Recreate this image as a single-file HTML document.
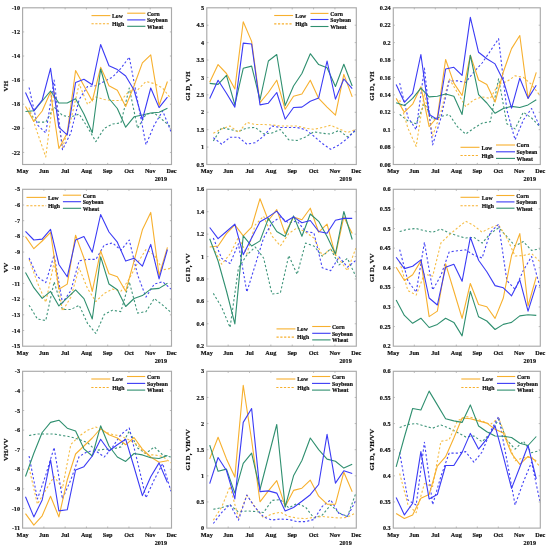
<!DOCTYPE html>
<html><head><meta charset="utf-8"><style>
html,body{margin:0;padding:0;background:#fff;}
svg{display:block;will-change:transform;filter:blur(0.3px)}
.t{font-family:"Liberation Serif",serif;font-weight:bold;font-size:6.2px;fill:#111;stroke:#111;stroke-width:0.18px}
.g{font-family:"Liberation Serif",serif;font-weight:bold;font-size:5.75px;fill:#111;stroke:#111;stroke-width:0.18px}
.l{font-family:"Liberation Serif",serif;font-weight:bold;font-size:7.1px;fill:#111;stroke:#111;stroke-width:0.18px}
</style></head><body>
<svg width="550" height="550" viewBox="0 0 550 550">
<rect width="550" height="550" fill="#fff"/>
<polyline points="29.07,112.60 37.42,122.10 45.77,122.10 54.12,107.00 62.47,115.50 70.82,117.00 79.17,114.10 87.52,127.20 95.87,141.60 104.22,128.40 112.57,124.00 120.92,122.90 129.27,88.00 137.61,128.40 145.96,114.20 154.31,113.00 162.66,120.00 171.01,127.30" fill="none" stroke="#3f957a" stroke-width="1.1" stroke-dasharray="2.2,2.1" stroke-linejoin="round"/>
<polyline points="29.07,107.60 37.42,132.90 45.77,157.00 54.12,90.80 62.47,148.00 70.82,120.00 79.17,84.10 87.52,104.30 95.87,97.00 104.22,99.50 112.57,100.50 120.92,100.50 129.27,91.00 137.61,90.00 145.96,81.50 154.31,83.60 162.66,88.00 171.01,98.90" fill="none" stroke="#f6bd45" stroke-width="1.1" stroke-dasharray="2.2,2.1" stroke-linejoin="round"/>
<polyline points="29.07,87.50 37.42,125.00 45.77,133.00 54.12,80.00 62.47,149.70 70.82,133.00 79.17,99.50 87.52,86.50 95.87,85.70 104.22,81.50 112.57,77.00 120.92,68.40 129.27,57.00 137.61,101.00 145.96,144.70 154.31,125.00 162.66,110.90 171.01,131.60" fill="none" stroke="#4545f5" stroke-width="1.1" stroke-dasharray="2.2,2.1" stroke-linejoin="round"/>
<polyline points="25.49,106.50 33.84,121.50 42.19,111.00 50.54,92.00 58.89,148.50 67.24,133.00 75.58,70.50 83.93,85.80 92.28,101.00 100.63,67.30 108.98,85.80 117.33,90.20 125.68,106.50 134.03,85.80 142.38,62.90 150.73,54.80 159.08,105.50 167.43,81.50" fill="none" stroke="#f7b02e" stroke-width="1.1" stroke-linejoin="round"/>
<polyline points="25.49,111.50 33.84,110.80 42.19,101.00 50.54,91.00 58.89,103.00 67.24,103.00 75.58,98.80 83.93,114.00 92.28,132.80 100.63,69.00 108.98,98.50 117.33,108.50 125.68,127.20 134.03,116.80 142.38,115.00 150.73,113.00 159.08,112.30 167.43,108.20" fill="none" stroke="#2f8f6f" stroke-width="1.1" stroke-linejoin="round"/>
<polyline points="25.49,92.40 33.84,110.90 42.19,100.00 50.54,68.40 58.89,127.30 67.24,134.90 75.58,82.50 83.93,79.30 92.28,84.70 100.63,44.50 108.98,65.80 117.33,69.60 125.68,76.00 134.03,90.00 142.38,119.60 150.73,88.00 159.08,107.60 167.43,97.20" fill="none" stroke="#3b3bf5" stroke-width="1.1" stroke-linejoin="round"/>
<line x1="91.5" y1="15.6" x2="110.4" y2="15.6" stroke="#f7b02e" stroke-width="1.1"/>
<line x1="91.5" y1="23.8" x2="110.4" y2="23.8" stroke="#f7b02e" stroke-width="1.1" stroke-dasharray="2.2,1.6"/>
<text x="112.0" y="17.90" class="g">Low</text>
<text x="112.0" y="26.10" class="g">High</text>
<line x1="127.2" y1="13.2" x2="145.4" y2="13.2" stroke="#f7b02e" stroke-width="1.1"/>
<text x="146.9" y="15.50" class="g">Corn</text>
<line x1="127.2" y1="19.9" x2="145.4" y2="19.9" stroke="#3b3bf5" stroke-width="1.1"/>
<text x="146.9" y="22.20" class="g">Soybean</text>
<line x1="127.2" y1="26.3" x2="145.4" y2="26.3" stroke="#2f8f6f" stroke-width="1.1"/>
<text x="146.9" y="28.60" class="g">Wheat</text>
<rect x="22.6" y="7.8" width="148.90" height="156.70" fill="none" stroke="#aaaaaa" stroke-width="1.15"/>
<path d="M43.87 164.5v-1.6M43.87 7.8v1.6M65.14 164.5v-1.6M65.14 7.8v1.6M86.41 164.5v-1.6M86.41 7.8v1.6M107.69 164.5v-1.6M107.69 7.8v1.6M128.96 164.5v-1.6M128.96 7.8v1.6M150.23 164.5v-1.6M150.23 7.8v1.6M22.6 31.91h1.6M171.5 31.91h-1.6M22.6 56.02h1.6M171.5 56.02h-1.6M22.6 80.12h1.6M171.5 80.12h-1.6M22.6 104.23h1.6M171.5 104.23h-1.6M22.6 128.34h1.6M171.5 128.34h-1.6M22.6 152.45h1.6M171.5 152.45h-1.6" stroke="#aaaaaa" stroke-width="0.8" fill="none"/>
<text x="20.00" y="9.90" text-anchor="end" class="t">-10</text>
<text x="20.00" y="34.01" text-anchor="end" class="t">-12</text>
<text x="20.00" y="58.12" text-anchor="end" class="t">-14</text>
<text x="20.00" y="82.22" text-anchor="end" class="t">-16</text>
<text x="20.00" y="106.33" text-anchor="end" class="t">-18</text>
<text x="20.00" y="130.44" text-anchor="end" class="t">-20</text>
<text x="20.00" y="154.55" text-anchor="end" class="t">-22</text>
<text x="22.60" y="173.10" text-anchor="middle" class="t">May</text>
<text x="43.87" y="173.10" text-anchor="middle" class="t">Jun</text>
<text x="65.14" y="173.10" text-anchor="middle" class="t">Jul</text>
<text x="86.41" y="173.10" text-anchor="middle" class="t">Aug</text>
<text x="107.69" y="173.10" text-anchor="middle" class="t">Sep</text>
<text x="128.96" y="173.10" text-anchor="middle" class="t">Oct</text>
<text x="150.23" y="173.10" text-anchor="middle" class="t">Nov</text>
<text x="171.50" y="173.10" text-anchor="middle" class="t">Dec</text>
<text x="160.86" y="181.10" text-anchor="middle" class="t">2019</text>
<text transform="translate(8.20,86.15) rotate(-90)" text-anchor="middle" class="l" style="font-size:7.0px">VH</text>
<polyline points="213.30,141.00 221.68,127.60 230.06,129.50 238.45,131.50 246.83,128.00 255.21,127.40 263.60,133.90 271.98,133.00 280.36,129.50 288.75,139.80 297.13,140.50 305.51,136.90 313.90,131.80 322.28,133.30 330.66,134.00 339.04,130.40 347.43,136.90 355.81,130.40" fill="none" stroke="#3f957a" stroke-width="1.1" stroke-dasharray="2.2,2.1" stroke-linejoin="round"/>
<polyline points="213.30,133.30 221.68,128.90 230.06,126.00 238.45,132.50 246.83,122.40 255.21,124.50 263.60,124.50 271.98,125.00 280.36,126.00 288.75,126.00 297.13,126.00 305.51,128.20 313.90,129.30 322.28,127.50 330.66,125.30 339.04,128.90 347.43,132.50 355.81,129.60" fill="none" stroke="#f6bd45" stroke-width="1.1" stroke-dasharray="2.2,2.1" stroke-linejoin="round"/>
<polyline points="213.30,137.60 221.68,144.20 230.06,137.20 238.45,137.20 246.83,144.20 255.21,142.70 263.60,136.20 271.98,126.00 280.36,127.50 288.75,127.50 297.13,127.50 305.51,129.60 313.90,136.20 322.28,143.50 330.66,149.30 339.04,144.90 347.43,138.40 355.81,129.60" fill="none" stroke="#4545f5" stroke-width="1.1" stroke-dasharray="2.2,2.1" stroke-linejoin="round"/>
<polyline points="209.70,82.30 218.08,64.60 226.47,73.50 234.85,88.90 243.23,21.70 251.62,41.40 260.00,102.70 268.38,92.50 276.76,80.20 285.15,109.30 293.53,96.20 301.91,94.00 310.30,80.20 318.68,98.40 327.06,107.10 335.45,115.10 343.83,74.40 352.21,96.90" fill="none" stroke="#f7b02e" stroke-width="1.1" stroke-linejoin="round"/>
<polyline points="209.70,83.40 218.08,84.40 226.47,75.30 234.85,104.90 243.23,68.30 251.62,66.10 260.00,99.80 268.38,61.00 276.76,54.50 285.15,105.60 293.53,86.00 301.91,73.50 310.30,53.70 318.68,64.60 327.06,67.80 335.45,86.50 343.83,64.30 352.21,86.00" fill="none" stroke="#2f8f6f" stroke-width="1.1" stroke-linejoin="round"/>
<polyline points="209.70,98.40 218.08,80.20 226.47,93.30 234.85,107.10 243.23,43.10 251.62,44.00 260.00,104.90 268.38,103.20 276.76,92.50 285.15,119.20 293.53,107.50 301.91,107.10 310.30,101.30 318.68,97.90 327.06,61.00 335.45,99.10 343.83,79.00 352.21,88.60" fill="none" stroke="#3b3bf5" stroke-width="1.1" stroke-linejoin="round"/>
<line x1="274.2" y1="15.5" x2="293.1" y2="15.5" stroke="#f7b02e" stroke-width="1.1"/>
<line x1="274.2" y1="23.9" x2="293.1" y2="23.9" stroke="#f7b02e" stroke-width="1.1" stroke-dasharray="2.2,1.6"/>
<text x="295.3" y="17.80" class="g">Low</text>
<text x="295.3" y="26.20" class="g">High</text>
<line x1="310.5" y1="13.4" x2="328.5" y2="13.4" stroke="#f7b02e" stroke-width="1.1"/>
<text x="330.2" y="15.70" class="g">Corn</text>
<line x1="310.5" y1="19.5" x2="328.5" y2="19.5" stroke="#3b3bf5" stroke-width="1.1"/>
<text x="330.2" y="21.80" class="g">Soybean</text>
<line x1="310.5" y1="26.5" x2="328.5" y2="26.5" stroke="#2f8f6f" stroke-width="1.1"/>
<text x="330.2" y="28.80" class="g">Wheat</text>
<rect x="206.8" y="7.8" width="149.50" height="156.70" fill="none" stroke="#aaaaaa" stroke-width="1.15"/>
<path d="M228.16 164.5v-1.6M228.16 7.8v1.6M249.51 164.5v-1.6M249.51 7.8v1.6M270.87 164.5v-1.6M270.87 7.8v1.6M292.23 164.5v-1.6M292.23 7.8v1.6M313.59 164.5v-1.6M313.59 7.8v1.6M334.94 164.5v-1.6M334.94 7.8v1.6M206.8 25.21h1.6M356.3 25.21h-1.6M206.8 42.62h1.6M356.3 42.62h-1.6M206.8 60.03h1.6M356.3 60.03h-1.6M206.8 77.44h1.6M356.3 77.44h-1.6M206.8 94.86h1.6M356.3 94.86h-1.6M206.8 112.27h1.6M356.3 112.27h-1.6M206.8 129.68h1.6M356.3 129.68h-1.6M206.8 147.09h1.6M356.3 147.09h-1.6" stroke="#aaaaaa" stroke-width="0.8" fill="none"/>
<text x="204.20" y="9.90" text-anchor="end" class="t">5</text>
<text x="204.20" y="27.31" text-anchor="end" class="t">4.5</text>
<text x="204.20" y="44.72" text-anchor="end" class="t">4</text>
<text x="204.20" y="62.13" text-anchor="end" class="t">3.5</text>
<text x="204.20" y="79.54" text-anchor="end" class="t">3</text>
<text x="204.20" y="96.96" text-anchor="end" class="t">2.5</text>
<text x="204.20" y="114.37" text-anchor="end" class="t">2</text>
<text x="204.20" y="131.78" text-anchor="end" class="t">1.5</text>
<text x="204.20" y="149.19" text-anchor="end" class="t">1</text>
<text x="204.20" y="166.60" text-anchor="end" class="t">0.5</text>
<text x="206.80" y="173.10" text-anchor="middle" class="t">May</text>
<text x="228.16" y="173.10" text-anchor="middle" class="t">Jun</text>
<text x="249.51" y="173.10" text-anchor="middle" class="t">Jul</text>
<text x="270.87" y="173.10" text-anchor="middle" class="t">Aug</text>
<text x="292.23" y="173.10" text-anchor="middle" class="t">Sep</text>
<text x="313.59" y="173.10" text-anchor="middle" class="t">Oct</text>
<text x="334.94" y="173.10" text-anchor="middle" class="t">Nov</text>
<text x="356.30" y="173.10" text-anchor="middle" class="t">Dec</text>
<text x="345.62" y="181.10" text-anchor="middle" class="t">2019</text>
<text transform="translate(189.90,86.15) rotate(-90)" text-anchor="middle" class="l">GI<tspan dx="1.6">D</tspan><tspan font-size="4.2" dy="1.8">r</tspan><tspan dy="-1.8"> VH</tspan></text>
<polyline points="399.69,114.40 407.93,120.90 416.17,123.80 424.42,103.50 432.66,119.50 440.90,116.50 449.15,114.40 457.39,126.70 465.63,134.00 473.88,128.20 482.12,123.10 490.36,121.60 498.60,78.70 506.85,123.80 515.09,128.90 523.33,112.20 531.58,118.00 539.82,126.70" fill="none" stroke="#3f957a" stroke-width="1.1" stroke-dasharray="2.2,2.1" stroke-linejoin="round"/>
<polyline points="399.69,100.00 407.93,128.20 416.17,146.40 424.42,93.30 432.66,136.00 440.90,112.00 449.15,78.70 457.39,92.50 465.63,106.40 473.88,99.80 482.12,96.90 490.36,98.40 498.60,83.80 506.85,81.60 515.09,75.80 523.33,77.30 531.58,84.50 539.82,95.50" fill="none" stroke="#f6bd45" stroke-width="1.1" stroke-dasharray="2.2,2.1" stroke-linejoin="round"/>
<polyline points="399.69,83.10 407.93,117.30 416.17,129.60 424.42,68.00 432.66,144.90 440.90,118.00 449.15,80.90 457.39,80.90 465.63,82.40 473.88,72.00 482.12,63.00 490.36,51.00 498.60,38.70 506.85,110.00 515.09,139.80 523.33,120.00 531.58,108.50 539.82,126.70" fill="none" stroke="#4545f5" stroke-width="1.1" stroke-dasharray="2.2,2.1" stroke-linejoin="round"/>
<polyline points="396.15,98.40 404.39,112.20 412.64,104.20 420.88,86.70 429.12,126.70 437.37,117.00 445.61,59.50 453.85,83.10 462.09,95.50 470.34,55.20 478.58,80.00 486.82,84.50 495.07,102.00 503.31,72.00 511.55,48.60 519.80,35.50 528.04,98.40 536.28,72.40" fill="none" stroke="#f7b02e" stroke-width="1.1" stroke-linejoin="round"/>
<polyline points="396.15,102.70 404.39,105.60 412.64,98.40 420.88,88.20 429.12,96.90 437.37,96.20 445.61,94.00 453.85,96.20 462.09,114.40 470.34,55.20 478.58,94.70 486.82,103.00 495.07,113.30 503.31,108.50 511.55,106.40 519.80,107.50 528.04,104.90 536.28,99.80" fill="none" stroke="#2f8f6f" stroke-width="1.1" stroke-linejoin="round"/>
<polyline points="396.15,84.50 404.39,102.30 412.64,93.30 420.88,54.50 429.12,114.40 437.37,119.50 445.61,69.00 453.85,67.30 462.09,75.30 470.34,17.40 478.58,52.30 486.82,58.80 495.07,63.90 503.31,80.40 511.55,108.10 519.80,78.20 528.04,98.40 536.28,85.30" fill="none" stroke="#3b3bf5" stroke-width="1.1" stroke-linejoin="round"/>
<line x1="460.5" y1="147.3" x2="479.5" y2="147.3" stroke="#f7b02e" stroke-width="1.1"/>
<line x1="460.5" y1="155.5" x2="479.5" y2="155.5" stroke="#f7b02e" stroke-width="1.1" stroke-dasharray="2.2,1.6"/>
<text x="481.4" y="149.60" class="g">Low</text>
<text x="481.4" y="157.80" class="g">High</text>
<line x1="496" y1="145" x2="515" y2="145" stroke="#f7b02e" stroke-width="1.1"/>
<text x="516.5" y="147.30" class="g">Corn</text>
<line x1="496" y1="151.8" x2="515" y2="151.8" stroke="#3b3bf5" stroke-width="1.1"/>
<text x="516.5" y="154.10" class="g">Soybean</text>
<line x1="496" y1="158.4" x2="515" y2="158.4" stroke="#2f8f6f" stroke-width="1.1"/>
<text x="516.5" y="160.70" class="g">Wheat</text>
<rect x="393.3" y="7.8" width="147.00" height="156.70" fill="none" stroke="#aaaaaa" stroke-width="1.15"/>
<path d="M414.30 164.5v-1.6M414.30 7.8v1.6M435.30 164.5v-1.6M435.30 7.8v1.6M456.30 164.5v-1.6M456.30 7.8v1.6M477.30 164.5v-1.6M477.30 7.8v1.6M498.30 164.5v-1.6M498.30 7.8v1.6M519.30 164.5v-1.6M519.30 7.8v1.6M393.3 25.21h1.6M540.3 25.21h-1.6M393.3 42.62h1.6M540.3 42.62h-1.6M393.3 60.03h1.6M540.3 60.03h-1.6M393.3 77.44h1.6M540.3 77.44h-1.6M393.3 94.86h1.6M540.3 94.86h-1.6M393.3 112.27h1.6M540.3 112.27h-1.6M393.3 129.68h1.6M540.3 129.68h-1.6M393.3 147.09h1.6M540.3 147.09h-1.6" stroke="#aaaaaa" stroke-width="0.8" fill="none"/>
<text x="390.70" y="9.90" text-anchor="end" class="t">0.24</text>
<text x="390.70" y="27.31" text-anchor="end" class="t">0.22</text>
<text x="390.70" y="44.72" text-anchor="end" class="t">0.2</text>
<text x="390.70" y="62.13" text-anchor="end" class="t">0.18</text>
<text x="390.70" y="79.54" text-anchor="end" class="t">0.16</text>
<text x="390.70" y="96.96" text-anchor="end" class="t">0.14</text>
<text x="390.70" y="114.37" text-anchor="end" class="t">0.12</text>
<text x="390.70" y="131.78" text-anchor="end" class="t">0.1</text>
<text x="390.70" y="149.19" text-anchor="end" class="t">0.08</text>
<text x="390.70" y="166.60" text-anchor="end" class="t">0.06</text>
<text x="393.30" y="173.10" text-anchor="middle" class="t">May</text>
<text x="414.30" y="173.10" text-anchor="middle" class="t">Jun</text>
<text x="435.30" y="173.10" text-anchor="middle" class="t">Jul</text>
<text x="456.30" y="173.10" text-anchor="middle" class="t">Aug</text>
<text x="477.30" y="173.10" text-anchor="middle" class="t">Sep</text>
<text x="498.30" y="173.10" text-anchor="middle" class="t">Oct</text>
<text x="519.30" y="173.10" text-anchor="middle" class="t">Nov</text>
<text x="540.30" y="173.10" text-anchor="middle" class="t">Dec</text>
<text x="529.80" y="181.10" text-anchor="middle" class="t">2019</text>
<text transform="translate(373.60,86.15) rotate(-90)" text-anchor="middle" class="l">GI<tspan dx="1.6">D</tspan><tspan font-size="4.2" dy="1.8">a</tspan><tspan dy="-1.8"> VH</tspan></text>
<polyline points="29.07,305.20 37.42,319.00 45.77,320.50 54.12,281.90 62.47,309.50 70.82,309.50 79.17,305.20 87.52,323.40 95.87,333.50 104.22,314.50 112.57,310.20 120.92,311.60 129.27,281.80 137.61,313.10 145.96,311.60 154.31,298.50 162.66,305.10 171.01,312.40" fill="none" stroke="#3f957a" stroke-width="1.1" stroke-dasharray="2.2,2.1" stroke-linejoin="round"/>
<polyline points="29.07,259.40 37.42,282.60 45.77,302.30 54.12,262.30 62.47,311.00 70.82,297.20 79.17,268.10 87.52,288.50 95.87,301.50 104.22,293.50 112.57,289.10 120.92,291.30 129.27,278.90 137.61,262.90 145.96,249.50 154.31,255.00 162.66,269.80 171.01,268.40" fill="none" stroke="#f6bd45" stroke-width="1.1" stroke-dasharray="2.2,2.1" stroke-linejoin="round"/>
<polyline points="29.07,257.90 37.42,276.80 45.77,282.60 54.12,255.00 62.47,303.00 70.82,290.60 79.17,260.80 87.52,259.40 95.87,259.40 104.22,245.10 112.57,242.90 120.92,250.20 129.27,240.00 137.61,275.00 145.96,297.10 154.31,284.00 162.66,281.80 171.01,289.10" fill="none" stroke="#4545f5" stroke-width="1.1" stroke-dasharray="2.2,2.1" stroke-linejoin="round"/>
<polyline points="25.49,236.60 33.84,248.70 42.19,241.00 50.54,232.30 58.89,289.20 67.24,284.10 75.58,235.20 83.93,258.00 92.28,291.40 100.63,250.90 108.98,273.80 117.33,276.70 125.68,291.30 134.03,261.10 142.38,229.80 150.73,212.40 159.08,275.60 167.43,247.30" fill="none" stroke="#f7b02e" stroke-width="1.1" stroke-linejoin="round"/>
<polyline points="25.49,272.50 33.84,287.70 42.19,298.30 50.54,291.40 58.89,305.90 67.24,297.90 75.58,289.90 83.93,298.60 92.28,319.00 100.63,256.70 108.98,284.00 117.33,289.80 125.68,306.50 134.03,298.50 142.38,295.60 150.73,289.10 159.08,288.40 167.43,283.30" fill="none" stroke="#2f8f6f" stroke-width="1.1" stroke-linejoin="round"/>
<polyline points="25.49,231.30 33.84,240.00 42.19,239.10 50.54,229.40 58.89,264.50 67.24,276.80 75.58,240.00 83.93,236.60 92.28,252.20 100.63,214.50 108.98,232.00 117.33,242.20 125.68,261.10 134.03,258.20 142.38,266.20 150.73,244.40 159.08,278.90 167.43,249.50" fill="none" stroke="#3b3bf5" stroke-width="1.1" stroke-linejoin="round"/>
<line x1="26.5" y1="197.4" x2="46.2" y2="197.4" stroke="#f7b02e" stroke-width="1.1"/>
<line x1="26.5" y1="205.8" x2="46.2" y2="205.8" stroke="#f7b02e" stroke-width="1.1" stroke-dasharray="2.2,1.6"/>
<text x="47.9" y="199.70" class="g">Low</text>
<text x="47.9" y="208.10" class="g">High</text>
<line x1="62.9" y1="195.2" x2="81.1" y2="195.2" stroke="#f7b02e" stroke-width="1.1"/>
<text x="82.8" y="197.50" class="g">Corn</text>
<line x1="62.9" y1="201.7" x2="81.1" y2="201.7" stroke="#3b3bf5" stroke-width="1.1"/>
<text x="82.8" y="204.00" class="g">Soybean</text>
<line x1="62.9" y1="208.3" x2="81.1" y2="208.3" stroke="#2f8f6f" stroke-width="1.1"/>
<text x="82.8" y="210.60" class="g">Wheat</text>
<rect x="22.6" y="189.3" width="148.90" height="156.90" fill="none" stroke="#aaaaaa" stroke-width="1.15"/>
<path d="M43.87 346.2v-1.6M43.87 189.3v1.6M65.14 346.2v-1.6M65.14 189.3v1.6M86.41 346.2v-1.6M86.41 189.3v1.6M107.69 346.2v-1.6M107.69 189.3v1.6M128.96 346.2v-1.6M128.96 189.3v1.6M150.23 346.2v-1.6M150.23 189.3v1.6M22.6 204.99h1.6M171.5 204.99h-1.6M22.6 220.68h1.6M171.5 220.68h-1.6M22.6 236.37h1.6M171.5 236.37h-1.6M22.6 252.06h1.6M171.5 252.06h-1.6M22.6 267.75h1.6M171.5 267.75h-1.6M22.6 283.44h1.6M171.5 283.44h-1.6M22.6 299.13h1.6M171.5 299.13h-1.6M22.6 314.82h1.6M171.5 314.82h-1.6M22.6 330.51h1.6M171.5 330.51h-1.6" stroke="#aaaaaa" stroke-width="0.8" fill="none"/>
<text x="20.00" y="191.40" text-anchor="end" class="t">-5</text>
<text x="20.00" y="207.09" text-anchor="end" class="t">-6</text>
<text x="20.00" y="222.78" text-anchor="end" class="t">-7</text>
<text x="20.00" y="238.47" text-anchor="end" class="t">-8</text>
<text x="20.00" y="254.16" text-anchor="end" class="t">-9</text>
<text x="20.00" y="269.85" text-anchor="end" class="t">-10</text>
<text x="20.00" y="285.54" text-anchor="end" class="t">-11</text>
<text x="20.00" y="301.23" text-anchor="end" class="t">-12</text>
<text x="20.00" y="316.92" text-anchor="end" class="t">-13</text>
<text x="20.00" y="332.61" text-anchor="end" class="t">-14</text>
<text x="20.00" y="348.30" text-anchor="end" class="t">-15</text>
<text x="22.60" y="354.80" text-anchor="middle" class="t">May</text>
<text x="43.87" y="354.80" text-anchor="middle" class="t">Jun</text>
<text x="65.14" y="354.80" text-anchor="middle" class="t">Jul</text>
<text x="86.41" y="354.80" text-anchor="middle" class="t">Aug</text>
<text x="107.69" y="354.80" text-anchor="middle" class="t">Sep</text>
<text x="128.96" y="354.80" text-anchor="middle" class="t">Oct</text>
<text x="150.23" y="354.80" text-anchor="middle" class="t">Nov</text>
<text x="171.50" y="354.80" text-anchor="middle" class="t">Dec</text>
<text x="160.86" y="362.80" text-anchor="middle" class="t">2019</text>
<text transform="translate(8.20,267.75) rotate(-90)" text-anchor="middle" class="l" style="font-size:7.0px">VV</text>
<polyline points="213.30,293.40 221.68,307.20 230.06,327.50 238.45,268.00 246.83,255.00 255.21,247.00 263.60,258.00 271.98,294.00 280.36,293.00 288.75,255.50 297.13,274.40 305.51,243.10 313.90,246.00 322.28,256.20 330.66,248.90 339.04,264.90 347.43,258.40 355.81,276.50" fill="none" stroke="#3f957a" stroke-width="1.1" stroke-dasharray="2.2,2.1" stroke-linejoin="round"/>
<polyline points="213.30,247.50 221.68,264.20 230.06,254.00 238.45,237.30 246.83,254.00 255.21,224.90 263.60,216.20 271.98,236.00 280.36,246.00 288.75,233.60 297.13,227.80 305.51,232.00 313.90,238.00 322.28,255.50 330.66,249.00 339.04,259.10 347.43,270.70 355.81,248.20" fill="none" stroke="#f6bd45" stroke-width="1.1" stroke-dasharray="2.2,2.1" stroke-linejoin="round"/>
<polyline points="213.30,238.00 221.68,258.40 230.06,263.50 238.45,243.80 246.83,292.00 255.21,265.00 263.60,238.00 271.98,222.70 280.36,216.90 288.75,223.00 297.13,221.00 305.51,231.50 313.90,232.90 322.28,267.80 330.66,270.70 339.04,256.90 347.43,267.10 355.81,260.50" fill="none" stroke="#4545f5" stroke-width="1.1" stroke-dasharray="2.2,2.1" stroke-linejoin="round"/>
<polyline points="209.70,247.00 218.08,246.00 226.47,233.60 234.85,224.90 243.23,235.80 251.62,227.10 260.00,198.70 268.38,220.50 276.76,209.60 285.15,233.60 293.53,216.90 301.91,219.80 310.30,208.20 318.68,232.20 327.06,224.20 335.45,255.50 343.83,216.90 352.21,233.60" fill="none" stroke="#f7b02e" stroke-width="1.1" stroke-linejoin="round"/>
<polyline points="209.70,238.70 218.08,261.00 226.47,291.00 234.85,323.90 243.23,235.80 251.62,246.00 260.00,240.90 268.38,218.40 276.76,231.50 285.15,236.50 293.53,215.90 301.91,236.30 310.30,214.00 318.68,221.30 327.06,236.50 335.45,254.00 343.83,211.50 352.21,239.50" fill="none" stroke="#2f8f6f" stroke-width="1.1" stroke-linejoin="round"/>
<polyline points="209.70,227.50 218.08,238.70 226.47,231.50 234.85,224.20 243.23,254.70 251.62,238.00 260.00,221.70 268.38,216.90 276.76,211.10 285.15,221.70 293.53,216.90 301.91,222.70 310.30,220.50 318.68,231.50 327.06,233.30 335.45,220.30 343.83,218.40 352.21,218.40" fill="none" stroke="#3b3bf5" stroke-width="1.1" stroke-linejoin="round"/>
<line x1="276.5" y1="328.9" x2="295.4" y2="328.9" stroke="#f7b02e" stroke-width="1.1"/>
<line x1="276.5" y1="337.1" x2="295.4" y2="337.1" stroke="#f7b02e" stroke-width="1.1" stroke-dasharray="2.2,1.6"/>
<text x="297" y="331.20" class="g">Low</text>
<text x="297" y="339.40" class="g">High</text>
<line x1="312.2" y1="326.5" x2="330.6" y2="326.5" stroke="#f7b02e" stroke-width="1.1"/>
<text x="331.9" y="328.80" class="g">Corn</text>
<line x1="312.2" y1="333.3" x2="330.6" y2="333.3" stroke="#3b3bf5" stroke-width="1.1"/>
<text x="331.9" y="335.60" class="g">Soybean</text>
<line x1="312.2" y1="339.9" x2="330.6" y2="339.9" stroke="#2f8f6f" stroke-width="1.1"/>
<text x="331.9" y="342.20" class="g">Wheat</text>
<rect x="206.8" y="189.3" width="149.50" height="156.90" fill="none" stroke="#aaaaaa" stroke-width="1.15"/>
<path d="M228.16 346.2v-1.6M228.16 189.3v1.6M249.51 346.2v-1.6M249.51 189.3v1.6M270.87 346.2v-1.6M270.87 189.3v1.6M292.23 346.2v-1.6M292.23 189.3v1.6M313.59 346.2v-1.6M313.59 189.3v1.6M334.94 346.2v-1.6M334.94 189.3v1.6M206.8 211.71h1.6M356.3 211.71h-1.6M206.8 234.13h1.6M356.3 234.13h-1.6M206.8 256.54h1.6M356.3 256.54h-1.6M206.8 278.96h1.6M356.3 278.96h-1.6M206.8 301.37h1.6M356.3 301.37h-1.6M206.8 323.79h1.6M356.3 323.79h-1.6" stroke="#aaaaaa" stroke-width="0.8" fill="none"/>
<text x="204.20" y="191.40" text-anchor="end" class="t">1.6</text>
<text x="204.20" y="213.81" text-anchor="end" class="t">1.4</text>
<text x="204.20" y="236.23" text-anchor="end" class="t">1.2</text>
<text x="204.20" y="258.64" text-anchor="end" class="t">1</text>
<text x="204.20" y="281.06" text-anchor="end" class="t">0.8</text>
<text x="204.20" y="303.47" text-anchor="end" class="t">0.6</text>
<text x="204.20" y="325.89" text-anchor="end" class="t">0.4</text>
<text x="204.20" y="348.30" text-anchor="end" class="t">0.2</text>
<text x="206.80" y="354.80" text-anchor="middle" class="t">May</text>
<text x="228.16" y="354.80" text-anchor="middle" class="t">Jun</text>
<text x="249.51" y="354.80" text-anchor="middle" class="t">Jul</text>
<text x="270.87" y="354.80" text-anchor="middle" class="t">Aug</text>
<text x="292.23" y="354.80" text-anchor="middle" class="t">Sep</text>
<text x="313.59" y="354.80" text-anchor="middle" class="t">Oct</text>
<text x="334.94" y="354.80" text-anchor="middle" class="t">Nov</text>
<text x="356.30" y="354.80" text-anchor="middle" class="t">Dec</text>
<text x="345.62" y="362.80" text-anchor="middle" class="t">2019</text>
<text transform="translate(189.90,267.75) rotate(-90)" text-anchor="middle" class="l">GI<tspan dx="1.6">D</tspan><tspan font-size="4.2" dy="1.8">r</tspan><tspan dy="-1.8"> VV</tspan></text>
<polyline points="399.69,231.50 407.93,229.30 416.17,228.50 424.42,230.70 432.66,232.20 440.90,229.00 449.15,232.90 457.39,235.80 465.63,238.00 473.88,237.30 482.12,243.10 490.36,233.60 498.60,227.80 506.85,236.50 515.09,246.00 523.33,241.60 531.58,250.40 539.82,248.90" fill="none" stroke="#3f957a" stroke-width="1.1" stroke-dasharray="2.2,2.1" stroke-linejoin="round"/>
<polyline points="399.69,262.00 407.93,290.70 416.17,295.10 424.42,274.00 432.66,276.20 440.90,243.00 449.15,235.00 457.39,228.00 465.63,221.30 473.88,225.60 482.12,232.20 490.36,227.80 498.60,224.90 506.85,238.00 515.09,256.00 523.33,255.50 531.58,253.50 539.82,261.50" fill="none" stroke="#f6bd45" stroke-width="1.1" stroke-dasharray="2.2,2.1" stroke-linejoin="round"/>
<polyline points="399.69,249.60 407.93,281.00 416.17,292.20 424.42,242.40 432.66,290.00 440.90,275.50 449.15,252.00 457.39,250.80 465.63,249.90 473.88,255.00 482.12,258.00 490.36,232.20 498.60,224.20 506.85,280.50 515.09,289.30 523.33,270.40 531.58,256.50 539.82,286.40" fill="none" stroke="#4545f5" stroke-width="1.1" stroke-dasharray="2.2,2.1" stroke-linejoin="round"/>
<polyline points="396.15,267.20 404.39,280.50 412.64,274.70 420.88,260.90 429.12,316.60 437.37,311.10 445.61,263.80 453.85,291.00 462.09,318.40 470.34,283.50 478.58,304.50 486.82,306.70 495.07,318.40 503.31,298.00 511.55,255.50 519.80,233.60 528.04,306.00 536.28,276.90" fill="none" stroke="#f7b02e" stroke-width="1.1" stroke-linejoin="round"/>
<polyline points="396.15,299.90 404.39,315.40 412.64,323.30 420.88,318.20 429.12,327.50 437.37,324.40 445.61,318.20 453.85,322.40 462.09,335.90 470.34,291.40 478.58,316.80 486.82,321.00 495.07,329.50 503.31,324.40 511.55,322.40 519.80,315.90 528.04,314.80 536.28,315.40" fill="none" stroke="#2f8f6f" stroke-width="1.1" stroke-linejoin="round"/>
<polyline points="396.15,257.30 404.39,268.60 412.64,266.30 420.88,259.90 429.12,298.00 437.37,305.00 445.61,267.20 453.85,264.30 462.09,281.30 470.34,237.30 478.58,260.20 486.82,271.80 495.07,285.60 503.31,287.80 511.55,295.80 519.80,279.80 528.04,311.10 536.28,284.90" fill="none" stroke="#3b3bf5" stroke-width="1.1" stroke-linejoin="round"/>
<line x1="460.5" y1="197.3" x2="479.5" y2="197.3" stroke="#f7b02e" stroke-width="1.1"/>
<line x1="460.5" y1="205.7" x2="479.5" y2="205.7" stroke="#f7b02e" stroke-width="1.1" stroke-dasharray="2.2,1.6"/>
<text x="481.7" y="199.60" class="g">Low</text>
<text x="481.7" y="208.00" class="g">High</text>
<line x1="496.3" y1="195.5" x2="514.5" y2="195.5" stroke="#f7b02e" stroke-width="1.1"/>
<text x="516.2" y="197.80" class="g">Corn</text>
<line x1="496.3" y1="201.9" x2="514.5" y2="201.9" stroke="#3b3bf5" stroke-width="1.1"/>
<text x="516.2" y="204.20" class="g">Soybean</text>
<line x1="496.3" y1="208.2" x2="514.5" y2="208.2" stroke="#2f8f6f" stroke-width="1.1"/>
<text x="516.2" y="210.50" class="g">Wheat</text>
<rect x="393.3" y="189.3" width="147.00" height="156.90" fill="none" stroke="#aaaaaa" stroke-width="1.15"/>
<path d="M414.30 346.2v-1.6M414.30 189.3v1.6M435.30 346.2v-1.6M435.30 189.3v1.6M456.30 346.2v-1.6M456.30 189.3v1.6M477.30 346.2v-1.6M477.30 189.3v1.6M498.30 346.2v-1.6M498.30 189.3v1.6M519.30 346.2v-1.6M519.30 189.3v1.6M393.3 208.91h1.6M540.3 208.91h-1.6M393.3 228.53h1.6M540.3 228.53h-1.6M393.3 248.14h1.6M540.3 248.14h-1.6M393.3 267.75h1.6M540.3 267.75h-1.6M393.3 287.36h1.6M540.3 287.36h-1.6M393.3 306.98h1.6M540.3 306.98h-1.6M393.3 326.59h1.6M540.3 326.59h-1.6" stroke="#aaaaaa" stroke-width="0.8" fill="none"/>
<text x="390.70" y="191.40" text-anchor="end" class="t">0.6</text>
<text x="390.70" y="211.01" text-anchor="end" class="t">0.55</text>
<text x="390.70" y="230.62" text-anchor="end" class="t">0.5</text>
<text x="390.70" y="250.24" text-anchor="end" class="t">0.45</text>
<text x="390.70" y="269.85" text-anchor="end" class="t">0.4</text>
<text x="390.70" y="289.46" text-anchor="end" class="t">0.35</text>
<text x="390.70" y="309.08" text-anchor="end" class="t">0.3</text>
<text x="390.70" y="328.69" text-anchor="end" class="t">0.25</text>
<text x="390.70" y="348.30" text-anchor="end" class="t">0.2</text>
<text x="393.30" y="354.80" text-anchor="middle" class="t">May</text>
<text x="414.30" y="354.80" text-anchor="middle" class="t">Jun</text>
<text x="435.30" y="354.80" text-anchor="middle" class="t">Jul</text>
<text x="456.30" y="354.80" text-anchor="middle" class="t">Aug</text>
<text x="477.30" y="354.80" text-anchor="middle" class="t">Sep</text>
<text x="498.30" y="354.80" text-anchor="middle" class="t">Oct</text>
<text x="519.30" y="354.80" text-anchor="middle" class="t">Nov</text>
<text x="540.30" y="354.80" text-anchor="middle" class="t">Dec</text>
<text x="529.80" y="362.80" text-anchor="middle" class="t">2019</text>
<text transform="translate(373.60,267.75) rotate(-90)" text-anchor="middle" class="l">GI<tspan dx="1.6">D</tspan><tspan font-size="4.2" dy="1.8">a</tspan><tspan dy="-1.8"> VV</tspan></text>
<polyline points="29.07,435.50 37.42,434.00 45.77,434.00 54.12,434.00 62.47,435.50 70.82,436.90 79.17,439.50 87.52,442.70 95.87,450.40 104.22,449.30 112.57,449.00 120.92,446.90 129.27,430.90 137.61,448.00 145.96,453.50 154.31,446.90 162.66,454.90 171.01,457.10" fill="none" stroke="#3f957a" stroke-width="1.1" stroke-dasharray="2.2,2.1" stroke-linejoin="round"/>
<polyline points="29.07,467.80 37.42,504.20 45.77,490.00 54.12,476.50 62.47,488.20 70.82,444.50 79.17,436.20 87.52,430.20 95.87,427.00 104.22,431.80 112.57,434.50 120.92,436.00 129.27,440.00 137.61,445.00 145.96,454.90 154.31,454.90 162.66,456.40 171.01,462.90" fill="none" stroke="#f6bd45" stroke-width="1.1" stroke-dasharray="2.2,2.1" stroke-linejoin="round"/>
<polyline points="29.07,456.00 37.42,499.00 45.77,475.00 54.12,447.50 62.47,498.90 70.82,479.80 79.17,456.50 87.52,451.50 95.87,451.00 104.22,457.00 112.57,447.10 120.92,434.50 129.27,428.00 137.61,462.20 145.96,497.80 154.31,479.60 162.66,463.60 171.01,491.30" fill="none" stroke="#4545f5" stroke-width="1.1" stroke-dasharray="2.2,2.1" stroke-linejoin="round"/>
<polyline points="25.49,513.60 33.84,525.10 42.19,515.80 50.54,496.20 58.89,516.90 67.24,480.00 75.58,454.00 83.93,446.00 92.28,438.00 100.63,428.50 108.98,434.80 117.33,438.00 125.68,444.80 134.03,437.50 142.38,449.10 150.73,457.00 159.08,462.20 167.43,460.70" fill="none" stroke="#f7b02e" stroke-width="1.1" stroke-linejoin="round"/>
<polyline points="25.49,476.50 33.84,453.30 42.19,432.50 50.54,422.40 58.89,420.20 67.24,428.20 75.58,431.00 83.93,448.80 92.28,456.00 100.63,425.80 108.98,446.00 117.33,457.00 125.68,461.40 134.03,453.50 142.38,454.90 150.73,457.80 159.08,458.50 167.43,455.60" fill="none" stroke="#2f8f6f" stroke-width="1.1" stroke-linejoin="round"/>
<polyline points="25.49,496.70 33.84,516.90 42.19,500.00 50.54,459.80 58.89,510.90 67.24,509.80 75.58,470.00 83.93,466.70 92.28,456.00 100.63,439.20 108.98,451.00 117.33,444.80 125.68,439.20 134.03,467.00 142.38,495.60 150.73,476.70 159.08,462.90 167.43,482.50" fill="none" stroke="#3b3bf5" stroke-width="1.1" stroke-linejoin="round"/>
<line x1="91.3" y1="379" x2="110.3" y2="379" stroke="#f7b02e" stroke-width="1.1"/>
<line x1="91.3" y1="387.5" x2="110.3" y2="387.5" stroke="#f7b02e" stroke-width="1.1" stroke-dasharray="2.2,1.6"/>
<text x="112.2" y="381.30" class="g">Low</text>
<text x="112.2" y="389.80" class="g">High</text>
<line x1="127" y1="376.5" x2="145.2" y2="376.5" stroke="#f7b02e" stroke-width="1.1"/>
<text x="147.1" y="378.80" class="g">Corn</text>
<line x1="127" y1="383.4" x2="145.2" y2="383.4" stroke="#3b3bf5" stroke-width="1.1"/>
<text x="147.1" y="385.70" class="g">Soybean</text>
<line x1="127" y1="390.1" x2="145.2" y2="390.1" stroke="#2f8f6f" stroke-width="1.1"/>
<text x="147.1" y="392.40" class="g">Wheat</text>
<rect x="22.6" y="371.3" width="148.90" height="156.80" fill="none" stroke="#aaaaaa" stroke-width="1.15"/>
<path d="M43.87 528.1v-1.6M43.87 371.3v1.6M65.14 528.1v-1.6M65.14 371.3v1.6M86.41 528.1v-1.6M86.41 371.3v1.6M107.69 528.1v-1.6M107.69 371.3v1.6M128.96 528.1v-1.6M128.96 371.3v1.6M150.23 528.1v-1.6M150.23 371.3v1.6M22.6 390.90h1.6M171.5 390.90h-1.6M22.6 410.50h1.6M171.5 410.50h-1.6M22.6 430.10h1.6M171.5 430.10h-1.6M22.6 449.70h1.6M171.5 449.70h-1.6M22.6 469.30h1.6M171.5 469.30h-1.6M22.6 488.90h1.6M171.5 488.90h-1.6M22.6 508.50h1.6M171.5 508.50h-1.6" stroke="#aaaaaa" stroke-width="0.8" fill="none"/>
<text x="20.00" y="373.40" text-anchor="end" class="t">-3</text>
<text x="20.00" y="393.00" text-anchor="end" class="t">-4</text>
<text x="20.00" y="412.60" text-anchor="end" class="t">-5</text>
<text x="20.00" y="432.20" text-anchor="end" class="t">-6</text>
<text x="20.00" y="451.80" text-anchor="end" class="t">-7</text>
<text x="20.00" y="471.40" text-anchor="end" class="t">-8</text>
<text x="20.00" y="491.00" text-anchor="end" class="t">-9</text>
<text x="20.00" y="510.60" text-anchor="end" class="t">-10</text>
<text x="20.00" y="530.20" text-anchor="end" class="t">-11</text>
<text x="22.60" y="536.70" text-anchor="middle" class="t">May</text>
<text x="43.87" y="536.70" text-anchor="middle" class="t">Jun</text>
<text x="65.14" y="536.70" text-anchor="middle" class="t">Jul</text>
<text x="86.41" y="536.70" text-anchor="middle" class="t">Aug</text>
<text x="107.69" y="536.70" text-anchor="middle" class="t">Sep</text>
<text x="128.96" y="536.70" text-anchor="middle" class="t">Oct</text>
<text x="150.23" y="536.70" text-anchor="middle" class="t">Nov</text>
<text x="171.50" y="536.70" text-anchor="middle" class="t">Dec</text>
<text x="160.86" y="544.70" text-anchor="middle" class="t">2019</text>
<text transform="translate(8.20,449.70) rotate(-90)" text-anchor="middle" class="l" style="font-size:7.0px">VH/VV</text>
<polyline points="213.30,509.30 221.68,507.60 230.06,504.90 238.45,512.00 246.83,510.90 255.21,511.50 263.60,512.50 271.98,500.40 280.36,499.60 288.75,507.80 297.13,503.50 305.51,507.10 313.90,518.00 322.28,515.10 330.66,504.90 339.04,512.90 347.43,516.50 355.81,493.30" fill="none" stroke="#3f957a" stroke-width="1.1" stroke-dasharray="2.2,2.1" stroke-linejoin="round"/>
<polyline points="213.30,520.20 221.68,507.10 230.06,486.40 238.45,518.00 246.83,495.10 255.21,507.10 263.60,518.00 271.98,514.00 280.36,512.20 288.75,516.50 297.13,518.00 305.51,518.70 313.90,517.30 322.28,516.50 330.66,517.30 339.04,518.00 347.43,517.30 355.81,512.90" fill="none" stroke="#f6bd45" stroke-width="1.1" stroke-dasharray="2.2,2.1" stroke-linejoin="round"/>
<polyline points="213.30,523.50 221.68,512.50 230.06,504.40 238.45,520.20 246.83,495.10 255.21,507.60 263.60,516.90 271.98,520.00 280.36,519.00 288.75,519.50 297.13,521.60 305.51,521.60 313.90,519.50 322.28,506.40 330.66,499.80 339.04,513.60 347.43,516.50 355.81,500.50" fill="none" stroke="#4545f5" stroke-width="1.1" stroke-dasharray="2.2,2.1" stroke-linejoin="round"/>
<polyline points="209.70,458.90 218.08,437.20 226.47,458.90 234.85,477.10 243.23,385.30 251.62,440.00 260.00,501.80 268.38,490.90 276.76,480.70 285.15,506.40 293.53,490.40 301.91,488.20 310.30,480.20 318.68,496.20 327.06,504.20 335.45,504.20 343.83,472.20 352.21,491.80" fill="none" stroke="#f7b02e" stroke-width="1.1" stroke-linejoin="round"/>
<polyline points="209.70,445.10 218.08,471.30 226.47,469.10 234.85,493.10 243.23,463.30 251.62,453.10 260.00,489.50 268.38,457.00 276.76,424.50 285.15,507.10 293.53,475.80 301.91,460.50 310.30,438.00 318.68,449.60 327.06,459.10 335.45,461.30 343.83,468.10 352.21,464.20" fill="none" stroke="#2f8f6f" stroke-width="1.1" stroke-linejoin="round"/>
<polyline points="209.70,483.60 218.08,457.50 226.47,470.50 234.85,498.90 243.23,422.40 251.62,408.50 260.00,491.60 268.38,490.90 276.76,493.10 285.15,511.00 293.53,507.50 301.91,501.30 310.30,494.70 318.68,484.50 327.06,434.40 335.45,483.10 343.83,470.70 352.21,473.60" fill="none" stroke="#3b3bf5" stroke-width="1.1" stroke-linejoin="round"/>
<line x1="276.3" y1="379" x2="295.3" y2="379" stroke="#f7b02e" stroke-width="1.1"/>
<line x1="276.3" y1="387.5" x2="295.3" y2="387.5" stroke="#f7b02e" stroke-width="1.1" stroke-dasharray="2.2,1.6"/>
<text x="297.2" y="381.30" class="g">Low</text>
<text x="297.2" y="389.80" class="g">High</text>
<line x1="312" y1="376.5" x2="330.2" y2="376.5" stroke="#f7b02e" stroke-width="1.1"/>
<text x="332.1" y="378.80" class="g">Corn</text>
<line x1="312" y1="383.4" x2="330.2" y2="383.4" stroke="#3b3bf5" stroke-width="1.1"/>
<text x="332.1" y="385.70" class="g">Soybean</text>
<line x1="312" y1="390.1" x2="330.2" y2="390.1" stroke="#2f8f6f" stroke-width="1.1"/>
<text x="332.1" y="392.40" class="g">Wheat</text>
<rect x="206.8" y="371.3" width="149.50" height="156.80" fill="none" stroke="#aaaaaa" stroke-width="1.15"/>
<path d="M228.16 528.1v-1.6M228.16 371.3v1.6M249.51 528.1v-1.6M249.51 371.3v1.6M270.87 528.1v-1.6M270.87 371.3v1.6M292.23 528.1v-1.6M292.23 371.3v1.6M313.59 528.1v-1.6M313.59 371.3v1.6M334.94 528.1v-1.6M334.94 371.3v1.6M206.8 397.43h1.6M356.3 397.43h-1.6M206.8 423.57h1.6M356.3 423.57h-1.6M206.8 449.70h1.6M356.3 449.70h-1.6M206.8 475.83h1.6M356.3 475.83h-1.6M206.8 501.97h1.6M356.3 501.97h-1.6" stroke="#aaaaaa" stroke-width="0.8" fill="none"/>
<text x="204.20" y="373.40" text-anchor="end" class="t">3</text>
<text x="204.20" y="399.53" text-anchor="end" class="t">2.5</text>
<text x="204.20" y="425.67" text-anchor="end" class="t">2</text>
<text x="204.20" y="451.80" text-anchor="end" class="t">1.5</text>
<text x="204.20" y="477.93" text-anchor="end" class="t">1</text>
<text x="204.20" y="504.07" text-anchor="end" class="t">0.5</text>
<text x="204.20" y="530.20" text-anchor="end" class="t">0</text>
<text x="206.80" y="536.70" text-anchor="middle" class="t">May</text>
<text x="228.16" y="536.70" text-anchor="middle" class="t">Jun</text>
<text x="249.51" y="536.70" text-anchor="middle" class="t">Jul</text>
<text x="270.87" y="536.70" text-anchor="middle" class="t">Aug</text>
<text x="292.23" y="536.70" text-anchor="middle" class="t">Sep</text>
<text x="313.59" y="536.70" text-anchor="middle" class="t">Oct</text>
<text x="334.94" y="536.70" text-anchor="middle" class="t">Nov</text>
<text x="356.30" y="536.70" text-anchor="middle" class="t">Dec</text>
<text x="345.62" y="544.70" text-anchor="middle" class="t">2019</text>
<text transform="translate(189.90,449.70) rotate(-90)" text-anchor="middle" class="l">GI<tspan dx="1.6">D</tspan><tspan font-size="4.2" dy="1.8">r</tspan><tspan dy="-1.8"> VH/VV</tspan></text>
<polyline points="399.69,427.50 407.93,424.50 416.17,423.50 424.42,426.00 432.66,428.20 440.90,425.00 449.15,428.20 457.39,432.50 465.63,436.90 473.88,436.00 482.12,441.80 490.36,433.10 498.60,419.50 506.85,440.00 515.09,449.10 523.33,441.10 531.58,452.70 539.82,450.50" fill="none" stroke="#3f957a" stroke-width="1.1" stroke-dasharray="2.2,2.1" stroke-linejoin="round"/>
<polyline points="399.69,473.50 407.93,504.70 416.17,512.70 424.42,483.60 432.66,486.50 440.90,441.30 449.15,439.80 457.39,420.90 465.63,416.50 473.88,418.00 482.12,421.00 490.36,424.50 498.60,418.00 506.85,438.90 515.09,460.70 523.33,457.80 531.58,457.10 539.82,466.50" fill="none" stroke="#f6bd45" stroke-width="1.1" stroke-dasharray="2.2,2.1" stroke-linejoin="round"/>
<polyline points="399.69,452.40 407.93,500.00 416.17,505.00 424.42,442.20 432.66,504.70 440.90,476.40 449.15,453.10 457.39,453.10 465.63,451.60 473.88,462.20 482.12,452.00 490.36,431.60 498.60,416.50 506.85,460.00 515.09,505.00 523.33,482.00 531.58,462.20 539.82,501.00" fill="none" stroke="#4545f5" stroke-width="1.1" stroke-dasharray="2.2,2.1" stroke-linejoin="round"/>
<polyline points="396.15,513.50 404.39,518.50 412.64,514.90 420.88,498.20 429.12,494.50 437.37,466.20 445.61,456.70 453.85,438.00 462.09,418.00 470.34,418.70 478.58,420.90 486.82,423.10 495.07,429.20 503.31,433.10 511.55,453.50 519.80,464.40 528.04,456.40 536.28,460.70" fill="none" stroke="#f7b02e" stroke-width="1.1" stroke-linejoin="round"/>
<polyline points="396.15,466.90 404.39,437.00 412.64,408.50 420.88,410.00 429.12,391.10 437.37,404.90 445.61,418.70 453.85,420.90 462.09,422.40 470.34,404.90 478.58,426.00 486.82,431.80 495.07,436.00 503.31,436.20 511.55,437.50 519.80,443.30 528.04,445.50 536.28,436.50" fill="none" stroke="#2f8f6f" stroke-width="1.1" stroke-linejoin="round"/>
<polyline points="396.15,497.50 404.39,514.90 412.64,503.30 420.88,451.60 429.12,498.90 437.37,494.50 445.61,465.50 453.85,465.50 462.09,452.40 470.34,433.40 478.58,449.10 486.82,438.90 495.07,425.80 503.31,456.40 511.55,488.40 519.80,467.30 528.04,445.50 536.28,478.90" fill="none" stroke="#3b3bf5" stroke-width="1.1" stroke-linejoin="round"/>
<line x1="461.3" y1="379" x2="480.3" y2="379" stroke="#f7b02e" stroke-width="1.1"/>
<line x1="461.3" y1="387.5" x2="480.3" y2="387.5" stroke="#f7b02e" stroke-width="1.1" stroke-dasharray="2.2,1.6"/>
<text x="482.2" y="381.30" class="g">Low</text>
<text x="482.2" y="389.80" class="g">High</text>
<line x1="497" y1="376.5" x2="515.2" y2="376.5" stroke="#f7b02e" stroke-width="1.1"/>
<text x="517.1" y="378.80" class="g">Corn</text>
<line x1="497" y1="383.4" x2="515.2" y2="383.4" stroke="#3b3bf5" stroke-width="1.1"/>
<text x="517.1" y="385.70" class="g">Soybean</text>
<line x1="497" y1="390.1" x2="515.2" y2="390.1" stroke="#2f8f6f" stroke-width="1.1"/>
<text x="517.1" y="392.40" class="g">Wheat</text>
<rect x="393.3" y="371.3" width="147.00" height="156.80" fill="none" stroke="#aaaaaa" stroke-width="1.15"/>
<path d="M414.30 528.1v-1.6M414.30 371.3v1.6M435.30 528.1v-1.6M435.30 371.3v1.6M456.30 528.1v-1.6M456.30 371.3v1.6M477.30 528.1v-1.6M477.30 371.3v1.6M498.30 528.1v-1.6M498.30 371.3v1.6M519.30 528.1v-1.6M519.30 371.3v1.6M393.3 397.43h1.6M540.3 397.43h-1.6M393.3 423.57h1.6M540.3 423.57h-1.6M393.3 449.70h1.6M540.3 449.70h-1.6M393.3 475.83h1.6M540.3 475.83h-1.6M393.3 501.97h1.6M540.3 501.97h-1.6" stroke="#aaaaaa" stroke-width="0.8" fill="none"/>
<text x="390.70" y="373.40" text-anchor="end" class="t">0.6</text>
<text x="390.70" y="399.53" text-anchor="end" class="t">0.55</text>
<text x="390.70" y="425.67" text-anchor="end" class="t">0.5</text>
<text x="390.70" y="451.80" text-anchor="end" class="t">0.45</text>
<text x="390.70" y="477.93" text-anchor="end" class="t">0.4</text>
<text x="390.70" y="504.07" text-anchor="end" class="t">0.35</text>
<text x="390.70" y="530.20" text-anchor="end" class="t">0.3</text>
<text x="393.30" y="536.70" text-anchor="middle" class="t">May</text>
<text x="414.30" y="536.70" text-anchor="middle" class="t">Jun</text>
<text x="435.30" y="536.70" text-anchor="middle" class="t">Jul</text>
<text x="456.30" y="536.70" text-anchor="middle" class="t">Aug</text>
<text x="477.30" y="536.70" text-anchor="middle" class="t">Sep</text>
<text x="498.30" y="536.70" text-anchor="middle" class="t">Oct</text>
<text x="519.30" y="536.70" text-anchor="middle" class="t">Nov</text>
<text x="540.30" y="536.70" text-anchor="middle" class="t">Dec</text>
<text x="529.80" y="544.70" text-anchor="middle" class="t">2019</text>
<text transform="translate(373.60,449.70) rotate(-90)" text-anchor="middle" class="l">GI<tspan dx="1.6">D</tspan><tspan font-size="4.2" dy="1.8">a</tspan><tspan dy="-1.8"> VH/VV</tspan></text>
</svg></body></html>
